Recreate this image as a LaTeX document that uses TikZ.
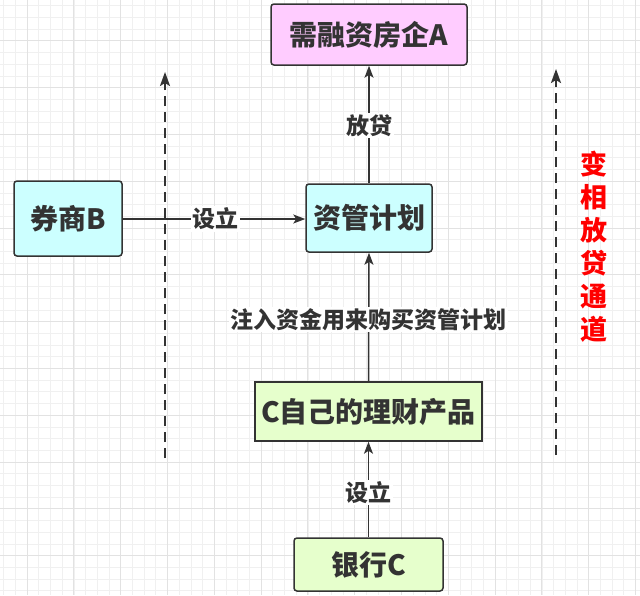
\documentclass[tikz,border=0pt]{standalone}
\usepackage{fontspec}
\setmainfont{Noto Sans CJK SC}
\usetikzlibrary{arrows.meta}
\definecolor{ink}{HTML}{333333}
\definecolor{pinkfill}{HTML}{FFCCFF}
\definecolor{cyanfill}{HTML}{CCFFFF}
\definecolor{greenfill}{HTML}{E6FFCC}
\definecolor{gridminor}{HTML}{F0F0F0}
\definecolor{gridmajor}{HTML}{E2E2E2}
\tikzset{
  box/.style={draw=ink, line width=1.5pt, rounded corners=3pt, text=ink,
    font=\fontsize{28}{30}\selectfont\bfseries, inner sep=0pt},
  sqbox/.style={box, rounded corners=0pt},
  lbl/.style={fill=white, text=ink, font=\fontsize{23}{25}\selectfont\bfseries, inner sep=1.5pt},
  conn/.style={draw=ink, line width=1.5pt, -{Stealth[length=12pt,width=9pt,inset=3pt]}},
  dconn/.style={draw=ink, line width=2.2pt, dash pattern=on 10pt off 6pt, -{Stealth[length=14pt,width=10pt,inset=3pt]}},
}
\begin{document}
\begin{tikzpicture}[x=1pt,y=-1pt]
\useasboundingbox (0,0) rectangle (640,595);
\fill[white] (0,0) rectangle (640,595);
% grid
\foreach \i in {0,...,55} {
  \draw[gridminor, line width=0.6pt] ({3.6+11.7*\i},0) -- ({3.6+11.7*\i},595);
  \draw[gridminor, line width=0.6pt] (0,{5.6+11.7*\i}) -- (640,{5.6+11.7*\i});
}
\foreach \i in {0,...,14} {
  \draw[gridmajor, line width=0.7pt] ({27+46.8*\i},0) -- ({27+46.8*\i},595);
  \draw[gridmajor, line width=0.7pt] (0,{40.7+46.8*\i}) -- (640,{40.7+46.8*\i});
}
% boxes
\node[box, fill=pinkfill, minimum width=196pt, minimum height=61pt] (A) at (369,34.5) {需融资房企A};
\node[box, fill=cyanfill, minimum width=108pt, minimum height=75pt] (B) at (68,218.5) {券商B};
\node[box, fill=cyanfill, minimum width=126pt, minimum height=68pt] (P) at (369,218) {资管计划};
\node[sqbox, fill=greenfill, minimum width=227pt, minimum height=59pt] (C) at (368.5,411.5) {C自己的理财产品};
\node[box, fill=greenfill, minimum width=149pt, minimum height=53pt] (K) at (368.5,564.5) {银行C};
% connectors
\draw[conn] (P.north) -- node[lbl, pos=0.49] {放贷} (A.south);
\draw[conn] (B.east |- 0,219) -- node[lbl, pos=0.51] {设立} (P.west |- 0,219);
\draw[conn] (C.north) -- node[lbl, pos=0.48] {注入资金用来购买资管计划} (P.south);
\draw[conn] (K.north) -- node[lbl, pos=0.47] {设立} (C.south);
% dashed channel arrows
\coordinate (L0) at (165,458);
\coordinate (L1) at (165,72);
\coordinate (R0) at (556,455);
\coordinate (R1) at (556,69);
\draw[dconn] (L0) -- (L1);
\draw[dconn] (R0) -- (R1);
\node[text=red, font=\fontsize{27}{33}\selectfont\bfseries, align=center, inner sep=0pt] (T) at (594,247) {变\\相\\放\\贷\\通\\道};
\end{tikzpicture}
\end{document}
